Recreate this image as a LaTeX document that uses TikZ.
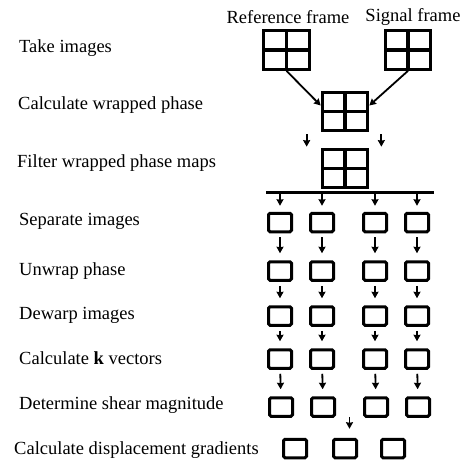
\documentclass[tikz,border=0pt]{standalone}
\usepackage{fontspec}
\setmainfont{Liberation Serif}
\usetikzlibrary{positioning, arrows.meta, calc}

\begin{document}
\begin{tikzpicture}[x=1pt, y=-1pt,
    lbl/.style={font=\fontsize{18.5}{22}\selectfont, inner sep=0pt},
    quad/.style={draw, line width=3.2pt, minimum width=45.5pt, minimum height=38.5pt, inner sep=0pt,
        path picture={\draw[line width=3.2pt] (path picture bounding box.north) -- (path picture bounding box.south)
            (path picture bounding box.west) -- (path picture bounding box.east);}},
    cell/.style={draw, line width=3pt, rounded corners=1.5pt, minimum width=23pt, minimum height=18.5pt, inner sep=0pt},
    arr/.style={-{Stealth[length=6.5pt, width=7pt, inset=0.5pt]}, line width=1.8pt, shorten <=4pt, shorten >=7pt}]
    \useasboundingbox (0,0) rectangle (474,474);

    \node[lbl] (reftxt) at (288, 17) {Reference frame};
    \node[lbl] (sigtxt) at (413, 17) {Signal frame};

    \node[lbl, anchor=west] (take) at (19, 48) {Take images};
    \node[lbl, anchor=west] (calc) at (18, 105) {Calculate wrapped phase};
    \node[lbl, anchor=west] (filter) at (17, 163) {Filter wrapped phase maps};
    \node[lbl, anchor=west] (sep) at (19, 221) {Separate images};
    \node[lbl, anchor=west] (unwrap) at (19, 271) {Unwrap phase};
    \node[lbl, anchor=west] (dewarp) at (19, 315) {Dewarp images};
    \node[lbl, anchor=west] (kvec) at (19, 358) {Calculate \textbf{k} vectors};
    \node[lbl, anchor=west] (shear) at (19, 405) {Determine shear magnitude};
    \node[lbl, anchor=west] (grad) at (14, 450) {Calculate displacement gradients};

    \node[quad] (ref) at (286.5, 50) {};
    \node[quad] (sig) at (408, 50) {};
    \node[quad] (wrap) at (345, 111.5) {};
    \node[quad] (filt) at (345, 168.5) {};

    \draw[arr, shorten <=0pt, shorten >=0pt] (ref.south) -- ([yshift=6pt]wrap.west);
    \draw[arr, shorten <=0pt, shorten >=0pt] (sig.south) -- ([yshift=6pt]wrap.east);
    \draw[arr, shorten <=2pt, shorten >=1pt] ([xshift=-14pt]wrap.south west) -- ([xshift=-14pt]filt.north west);
    \draw[arr, shorten <=2pt, shorten >=1pt] ([xshift=12pt]wrap.south east) -- ([xshift=12pt]filt.north east);

    \coordinate (busL) at (266, 192);
    \coordinate (busR) at (434, 192);
    \draw[line width=3pt] (busL) -- (busR);

    \node[cell] (r1c1) at (280, 222.5) {};
    \node[cell] (r1c2) at (322, 222.5) {};
    \node[cell] (r1c3) at (375, 222.5) {};
    \node[cell] (r1c4) at (417, 222.5) {};
    \node[cell] (r2c1) at (280, 271) {};
    \node[cell] (r2c2) at (322, 271) {};
    \node[cell] (r2c3) at (375, 271) {};
    \node[cell] (r2c4) at (417, 271) {};
    \node[cell] (r3c1) at (280, 316) {};
    \node[cell] (r3c2) at (322, 316) {};
    \node[cell] (r3c3) at (375, 316) {};
    \node[cell] (r3c4) at (417, 316) {};
    \node[cell] (r4c1) at (280, 359) {};
    \node[cell] (r4c2) at (322, 359) {};
    \node[cell] (r4c3) at (375, 359) {};
    \node[cell] (r4c4) at (417, 359) {};
    \node[cell] (r5c1) at (281, 407) {};
    \node[cell] (r5c2) at (323, 407) {};
    \node[cell] (r5c3) at (376, 407) {};
    \node[cell] (r5c4) at (418, 407) {};
    \node[cell] (r6c1) at (295, 448.5) {};
    \node[cell] (r6c2) at (345, 448.5) {};
    \node[cell] (r6c3) at (393, 448.5) {};

    \draw[arr, shorten <=0pt, shorten >=6pt] (r1c1 |- busL) -- (r1c1.north);
    \draw[arr, shorten <=0pt, shorten >=6pt] (r1c2 |- busL) -- (r1c2.north);
    \draw[arr, shorten <=0pt, shorten >=6pt] (r1c3 |- busL) -- (r1c3.north);
    \draw[arr, shorten <=0pt, shorten >=6pt] (r1c4 |- busL) -- (r1c4.north);
    \draw[arr] (r1c1) -- (r2c1);
    \draw[arr] (r1c2) -- (r2c2);
    \draw[arr] (r1c3) -- (r2c3);
    \draw[arr] (r1c4) -- (r2c4);
    \draw[arr] (r2c1) -- (r3c1);
    \draw[arr] (r2c2) -- (r3c2);
    \draw[arr] (r2c3) -- (r3c3);
    \draw[arr] (r2c4) -- (r3c4);
    \draw[arr] (r3c1) -- (r4c1);
    \draw[arr] (r3c2) -- (r4c2);
    \draw[arr] (r3c3) -- (r4c3);
    \draw[arr] (r3c4) -- (r4c4);
    \draw[arr] (r4c1) -- (r5c1);
    \draw[arr] (r4c2) -- (r5c2);
    \draw[arr] (r4c3) -- (r5c3);
    \draw[arr] (r4c4) -- (r5c4);
    \coordinate (mid5) at ($(r5c2.south)!0.5!(r5c3.south)$);
    \draw[arr, shorten <=-1pt, shorten >=9pt] (mid5) -- (mid5 |- r6c2.north);
\end{tikzpicture}
\end{document}
